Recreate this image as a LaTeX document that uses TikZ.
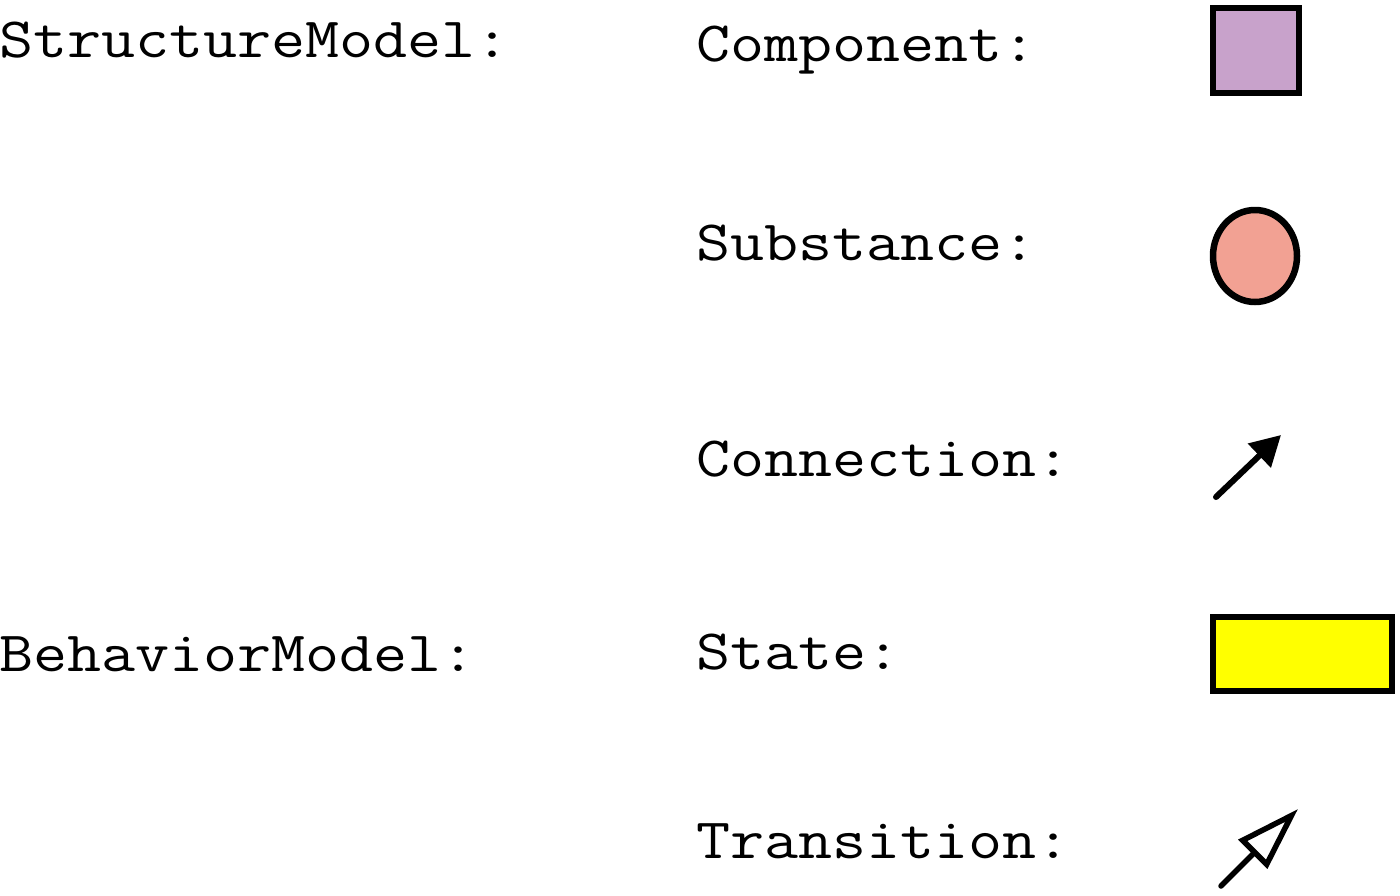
\documentclass[tikz,border=0pt]{standalone}
\usepackage{fontspec}
\newfontfamily\courfont{Latin Modern Mono}[FakeStretch=1.16]
\usetikzlibrary{arrows.meta,shapes.geometric}
\definecolor{lilac}{HTML}{C8A2CB}
\definecolor{salmon}{HTML}{F2A193}
\definecolor{stateyellow}{HTML}{FFFF00}
\tikzset{
  lbl/.style={anchor=base west,inner sep=0pt,font=\courfont\fontsize{57}{60}\selectfont},
  shapeborder/.style={draw=black,line width=6.5pt},
  conn/.style={line width=6pt,line cap=round,-{Triangle[length=30pt,width=32pt]}},
  trans/.style={line width=5.5pt,line cap=round,-{Triangle[open,length=64pt,width=40pt,line join=miter]}}
}
\begin{document}
\begin{tikzpicture}[x=1pt,y=-1pt]
\useasboundingbox (0,0) rectangle (1400,895);
\node[lbl] (sm) at (-1,57) {StructureModel:};
\node[lbl] (bm) at (-1,671) {BehaviorModel:};
\node[lbl] (comp) at (696,61) {Component:};
\node[lbl] (subs) at (696,260) {Substance:};
\node[lbl] (conl) at (696,476) {Connection:};
\node[lbl] (stl) at (696,669) {State:};
\node[lbl] (trl) at (696,858) {Transition:};
% Component square
\node[shapeborder,fill=lilac,minimum width=86pt,minimum height=85pt,inner sep=0pt] (compsym) at (1256,50.5) {};
% Substance ellipse
\node[shapeborder,fill=salmon,ellipse,minimum width=84pt,minimum height=92pt,inner sep=0pt] (subsym) at (1255,256) {};
% State rectangle
\node[shapeborder,fill=stateyellow,minimum width=179pt,minimum height=74pt,inner sep=0pt] (stsym) at (1302.5,654) {};
% Connection arrow
\coordinate (c1) at (1216,497);
\coordinate (c2) at (1281,435);
\draw[conn] (c1) -- (c2);
% Transition arrow
\coordinate (t1) at (1221,886);
\coordinate (t2) at (1298,809);
\draw[trans] (t1) -- (t2);
\end{tikzpicture}
\end{document}
